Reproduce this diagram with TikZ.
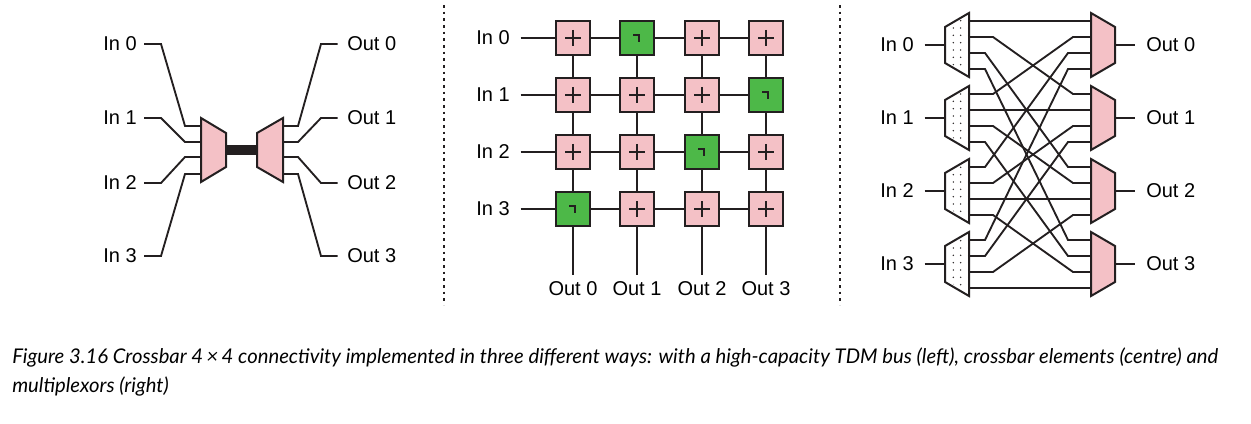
\documentclass[tikz,border=0pt]{standalone}
\usepackage{fontspec}
\setmainfont{Liberation Sans}
\newfontfamily\capfont{Lato}
\usetikzlibrary{patterns.meta}
\definecolor{pk}{HTML}{F4C1C6}
\definecolor{gn}{HTML}{4DB848}
\definecolor{ol}{HTML}{231F20}
\begin{document}
\begin{tikzpicture}[x=0.75pt,y=-0.75pt,
  lab/.style={font=\fontsize{15}{17}\selectfont, inner sep=0pt},
  wire/.style={draw=ol, line width=1.4pt},
  trap/.style={draw=ol, line width=1.5pt, line join=miter},
  box/.style={draw=ol, line width=1.5pt, minimum size=25pt, inner sep=0pt},
  sep/.style={draw=ol, line width=1.5pt, dash pattern=on 2pt off 3pt},
  captxt/.style={font=\capfont\itshape\fontsize{15.2}{18}\selectfont, inner sep=0pt, anchor=west}]
\useasboundingbox (0,0) rectangle (1251,424);
% separators
\draw[sep] (444,5) -- (444,305);
\draw[sep] (840,5) -- (840,305);
% ---------- left panel
\foreach \ly/\sy/\i in {44/126/0, 118/142/1, 183/157/2, 256/174/3}{
  \node[lab, anchor=east] (li\i) at (137,\ly) {In \i};
  \node[lab, anchor=west] (lo\i) at (347,\ly) {Out \i};
  \draw[wire] (li\i.east) ++(7,0) -- (161,\ly) -- (185,\sy) -- (201,\sy);
  \draw[wire] (283,\sy) -- (298,\sy) -- (321,\ly) -- ([xshift=-7]lo\i.west);
}
\draw[draw=ol, line width=7pt] (226,150) -- (258,150);
\draw[trap, fill=pk] (201,118) -- (226,133) -- (226,167) -- (201,182) -- cycle;
\draw[trap, fill=pk] (283,118) -- (257,133) -- (257,167) -- (283,182) -- cycle;
% ---------- middle panel
\foreach \c/\x in {0/573,1/637,2/702,3/766}{
  \node[lab] (mo\c) at (\x,289) {Out \c};
  \draw[wire] (\x,38) -- (\x,275);
}
\foreach \r/\y in {0/38,1/95,2/152,3/209}{
  \node[lab, anchor=east] (mi\r) at (510,\y) {In \r};
  \draw[wire] ([xshift=8]mi\r.east) -- (766,\y);
}
\foreach \r/\y in {0/38,1/95,2/152,3/209}{
  \foreach \c/\x in {0/573,1/637,2/702,3/766}{
    \node[box, fill=pk] (b\r\c) at (\x,\y) {};
    \draw[ol, line width=1.5pt] (\x-8,\y) -- (\x+8,\y) (\x,\y-8) -- (\x,\y+8);
  }
}
\foreach \r/\c/\x/\y in {0/1/637/38, 1/3/766/95, 2/2/702/152, 3/0/573/209}{
  \node[box, fill=gn] (g\r\c) at (\x,\y) {};
  \draw[ol, line width=1.5pt] (\x-4,\y-3) -- (\x+2,\y-3) -- (\x+2,\y+4);
}
% ---------- right panel
\foreach \i in {0,...,3}{
  \foreach \j in {0,...,3}{
    \pgfmathsetmacro{\sy}{45+73*\i-24+16*\j}
    \pgfmathsetmacro{\ty}{45+73*\j-24+16*\i}
    \pgfmathsetmacro{\lb}{abs(\i-\j)==1 ? 993 : 985}
    \pgfmathsetmacro{\rb}{abs(\i-\j)==1 ? 1073 : 1068}
    \ifnum\i=\j
      \draw[wire] (969,\sy) -- (1091,\ty);
    \else
      \draw[wire] (969,\sy) -- (\lb,\sy) -- (\rb,\ty) -- (1091,\ty);
    \fi
  }
}
\foreach \i in {0,...,3}{
  \pgfmathsetmacro{\yc}{45+73*\i}
  \node[lab, anchor=east] (ri\i) at (914,\yc) {In \i};
  \node[lab, anchor=west] (ro\i) at (1146,\yc) {Out \i};
  \draw[wire] ([xshift=8]ri\i.east) -- (945,\yc);
  \draw[wire] (1115,\yc) -- ([xshift=-8]ro\i.west);
  \draw[trap, fill=white] (945,\yc-18) -- (969,\yc-32) -- (969,\yc+32) -- (945,\yc+18) -- cycle;
  \fill[pattern={Dots[radius=0.6pt, distance=5.5pt]}, pattern color=ol]
     (947,\yc-16) -- (967,\yc-29) -- (967,\yc+29) -- (947,\yc+16) -- cycle;
  \draw[trap, fill=pk] (1091,\yc-32) -- (1115,\yc-18) -- (1115,\yc+18) -- (1091,\yc+32) -- cycle;
}
% ---------- caption
\node[captxt] (c1) at (12,357) {Figure 3.16 Crossbar 4\,\texttimes\,4 connectivity implemented in three different ways: with a high-capacity TDM bus (left), crossbar elements (centre) and};
\node[captxt] (c2) at (12,386) {multiplexors (right)};
\end{tikzpicture}
\end{document}
